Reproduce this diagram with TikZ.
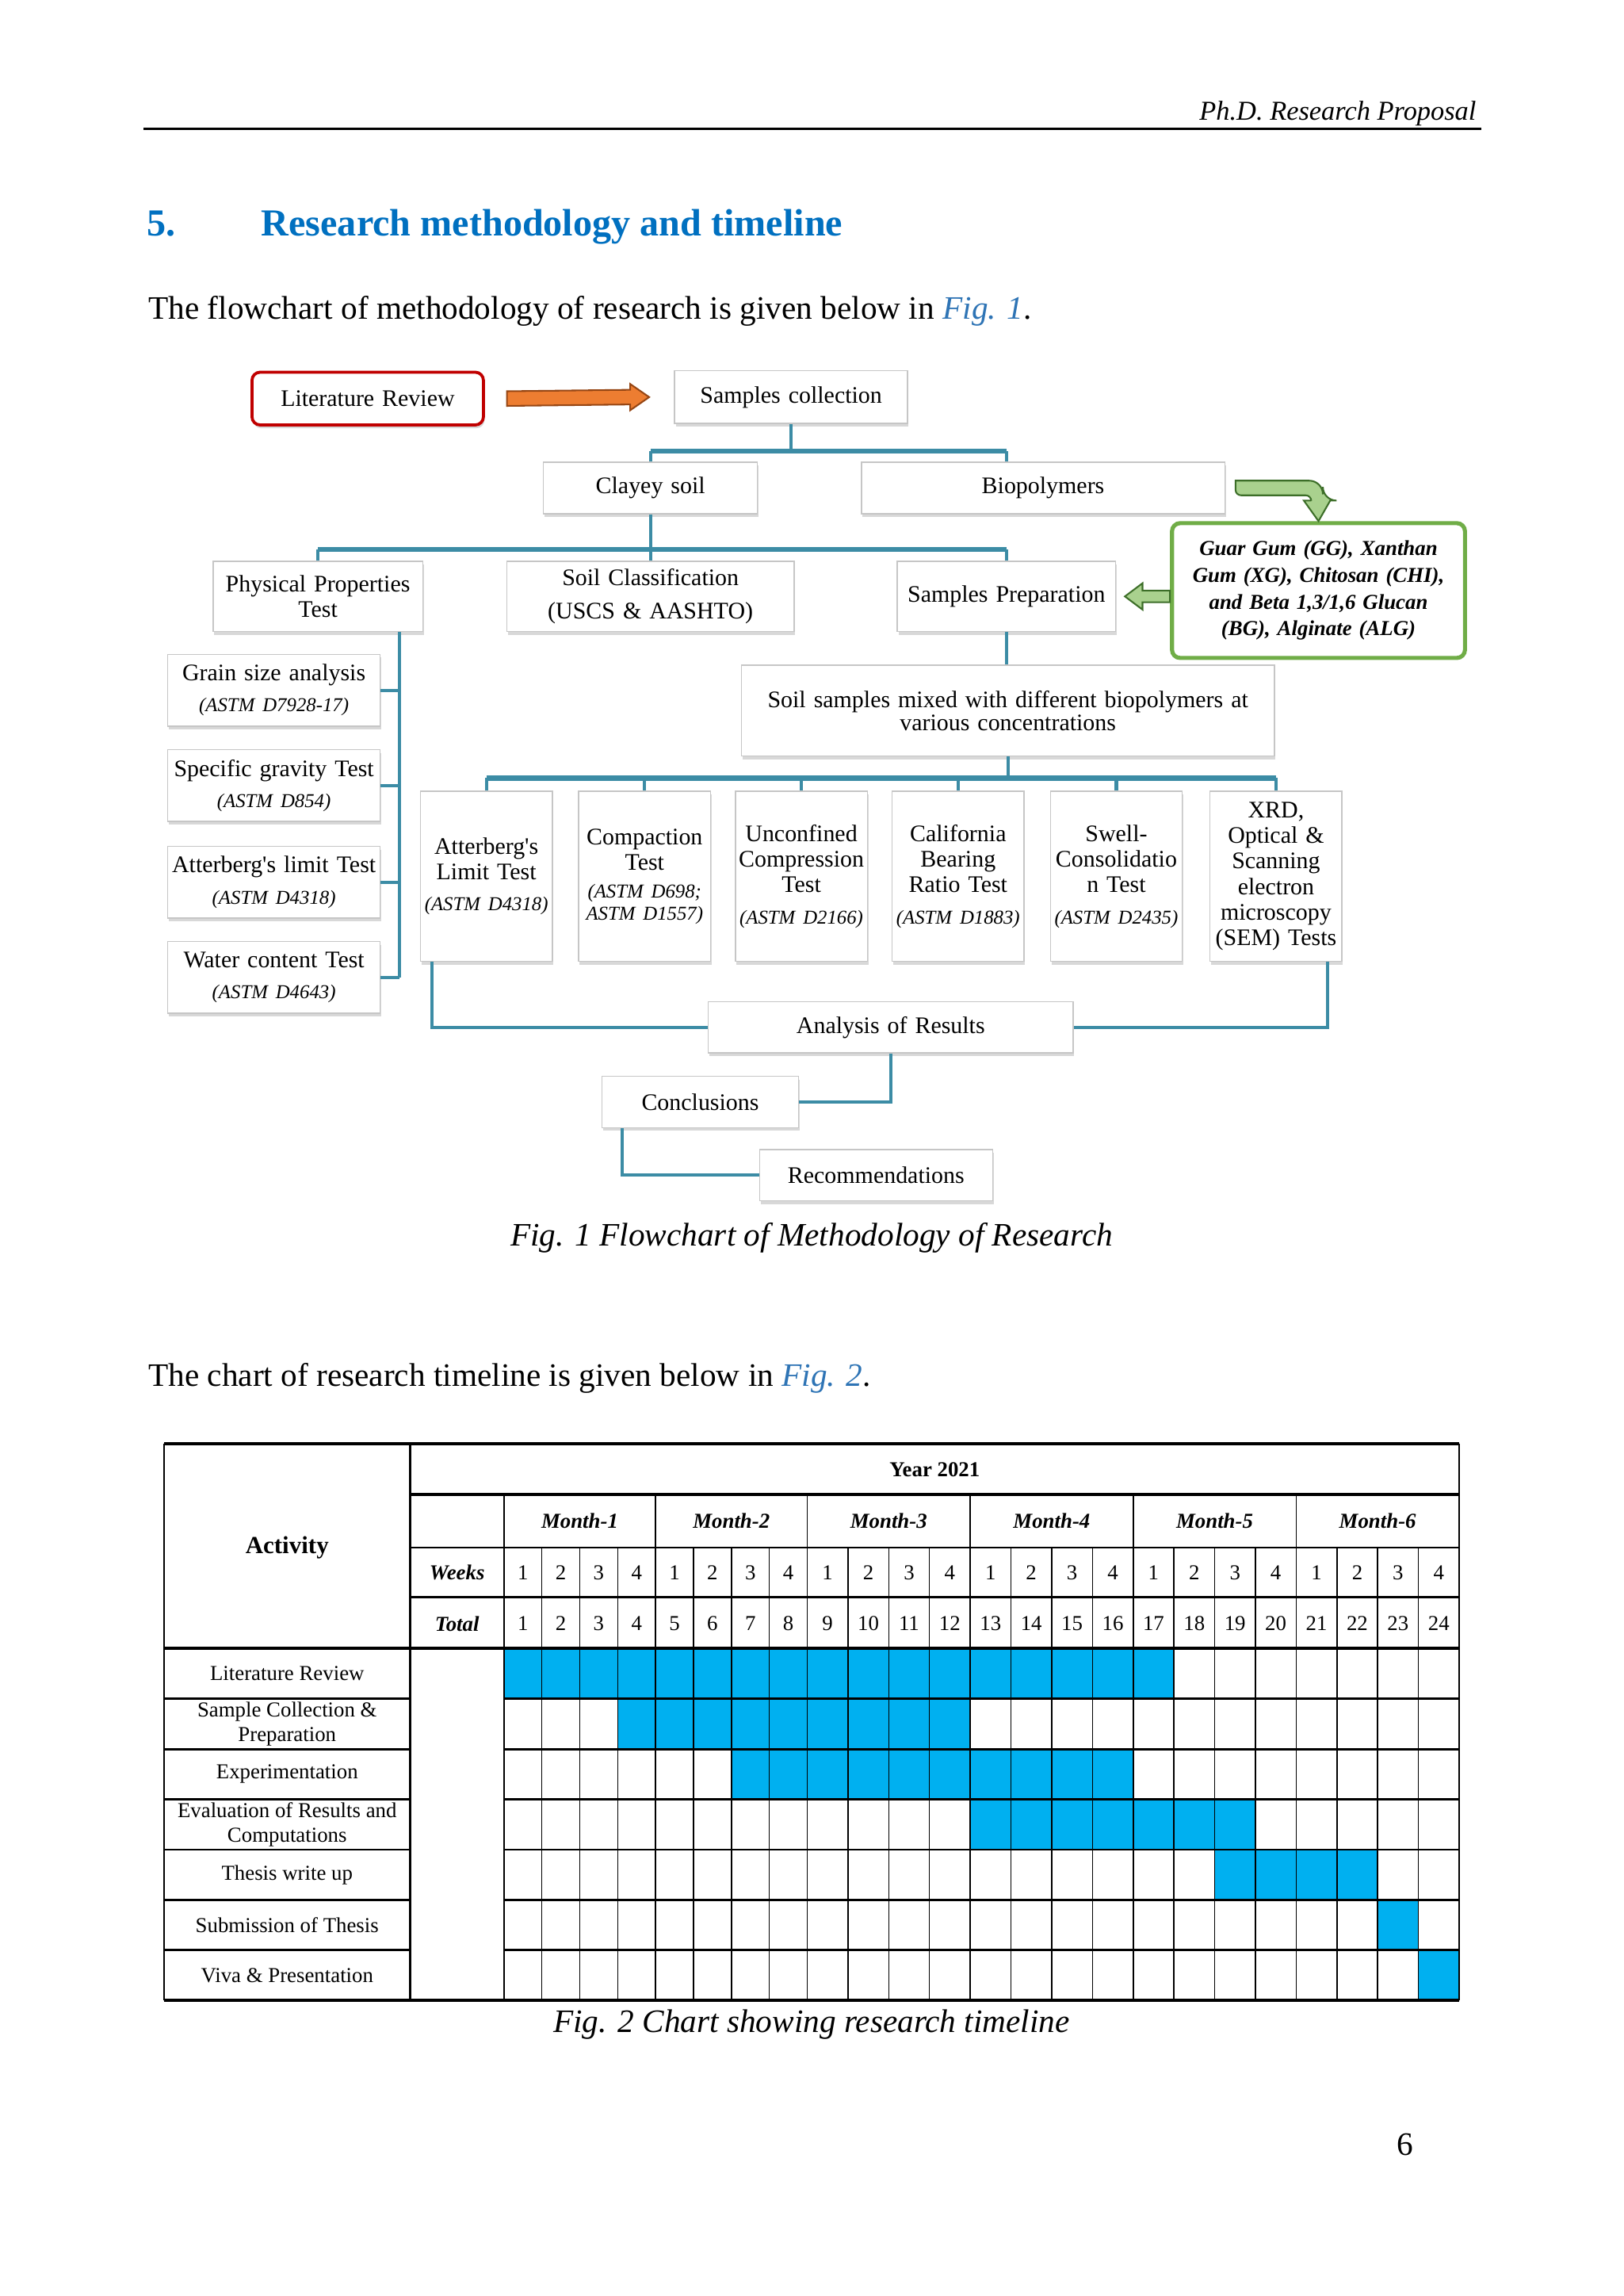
\documentclass[tikz,border=0pt]{standalone}
\usepackage{fontspec}
\setmainfont{Liberation Serif}
\usetikzlibrary{calc,shadows}

\definecolor{headblue}{RGB}{0,112,192}
\definecolor{linkblue}{RGB}{46,116,181}
\definecolor{flowteal}{RGB}{60,140,165}
\definecolor{litred}{RGB}{192,0,0}
\definecolor{arrorange}{RGB}{237,125,49}
\definecolor{arrorangedk}{RGB}{150,70,20}
\definecolor{guargreen}{RGB}{112,173,71}
\definecolor{lightgreen}{RGB}{169,209,142}
\definecolor{greendk}{RGB}{60,110,40}
\definecolor{cellblue}{RGB}{0,176,240}

\newcommand{\boxfont}{\fontsize{8.7}{9.4}\selectfont}
\newcommand{\astmfont}{\fontsize{7.2}{8.1}\selectfont\itshape}
\newcommand{\tabfont}{\fontsize{7.8}{9.1}\selectfont}

\hyphenpenalty=10000
\exhyphenpenalty=10000

% x position of the week column boundaries
\pgfmathdeclarefunction{wx}{1}{\pgfmathparse{(#1<8.5) ? (344+25.875*#1) : (551+27.8125*(#1-8))}}

\tikzset{
  sz/.code 2 args={\pgfmathsetlengthmacro\boxw{#1*0.5373pt}\pgfmathsetlengthmacro\boxh{#2*0.5373pt}\tikzset{text width=\boxw, minimum height=\boxh}},
  flowbox/.style={draw=gray!45, fill=white, align=center, inner xsep=0pt, inner ysep=1pt, font=\boxfont,
    drop shadow={shadow xshift=0.4pt, shadow yshift=-1.2pt, opacity=0.3}},
  litbox/.style={flowbox, draw=litred, line width=1.1pt, rounded corners=3pt},
  guarbox/.style={draw=guargreen, line width=1.5pt, rounded corners=3pt, fill=white, align=center,
    inner xsep=0pt, font=\fontsize{7.8}{9.8}\selectfont\bfseries\itshape},
  conn/.style={draw=flowteal, line width=1.2pt},
  bar/.style={draw=flowteal, line width=1.8pt},
  orarrow/.style={fill=arrorange, draw=arrorangedk, line width=0.6pt},
  grarrow/.style={fill=lightgreen, draw=greendk, line width=0.6pt},
  txt/.style={inner sep=0pt, anchor=base west, font=\fontsize{12}{14}\selectfont},
  tcell/.style={inner sep=0pt, font=\tabfont, align=center},
  tabthin/.style={line width=0.45pt},
  tabmid/.style={line width=0.8pt},
  tabthick/.style={line width=1.2pt},
}

\begin{document}
\begin{tikzpicture}[x=0.5373pt, y=-0.5373pt]
\fill[white] (0,0) rectangle (1108,1566.8);
\useasboundingbox (0,0) rectangle (1108,1566.8);

% page head
\node[txt, anchor=base east, font=\fontsize{10}{12}\selectfont\itshape] (hdr) at (1008,82) {Ph.D. Research Proposal};
\draw[line width=0.9pt] (98,88) -- (1011,88);
\node[txt, font=\fontsize{14}{16}\selectfont\bfseries, text=headblue] (secnum) at (100,161) {5.};
\node[txt, font=\fontsize{14}{16}\selectfont\bfseries, text=headblue] (sectitle) at (178,161) {Research methodology and timeline};
\node[txt] (intro1) at (101,218) {The flowchart of methodology of research is given below in {\color{linkblue}\itshape Fig. 1}.};

% flowchart
\node[litbox, sz={158}{36}] (lit) at (251,272) {Literature Review};
\node[flowbox, sz={159}{36}] (samp) at (540,271) {Samples collection};
\node[flowbox, sz={146}{35}] (clay) at (444,333) {Clayey soil};
\node[flowbox, sz={248}{35}] (bio) at (712,333) {Biopolymers};
\node[guarbox, sz={200}{92}] (guar) at (900,403) {Guar Gum (GG), Xanthan\\Gum (XG), Chitosan (CHI),\\and Beta 1,3/1,6 Glucan\\(BG), Alginate (ALG)};
\node[flowbox, sz={143}{48}] (phys) at (217,407) {Physical Properties\\Test};
\node[flowbox, sz={196}{48}] (soilc) at (444,407) {Soil Classification\\[3pt](USCS \& AASHTO)};
\node[flowbox, sz={149}{48}] (prep) at (687,407) {Samples Preparation};

\node[flowbox, sz={145}{49}] (grain) at (187,471) {Grain size analysis\\[2pt]{\astmfont (ASTM D7928-17)}};
\node[flowbox, sz={145}{49}] (spec) at (187,536) {Specific gravity Test\\[2pt]{\astmfont (ASTM D854)}};
\node[flowbox, sz={145}{49}] (atter) at (187,602) {Atterberg\textquotesingle s limit Test\\[2pt]{\astmfont (ASTM D4318)}};
\node[flowbox, sz={145}{49}] (water) at (187,667) {Water content Test\\[2pt]{\astmfont (ASTM D4643)}};

\node[flowbox, sz={364}{62}] (mix) at (688,485) {Soil samples mixed with different biopolymers at\\[-0.8pt]various concentrations};

\node[flowbox, sz={90}{116}] (t1) at (332,598) {Atterberg\textquotesingle s\\Limit Test\\[2pt]{\astmfont (ASTM D4318)}};
\node[flowbox, sz={90}{116}] (t2) at (440,598) {Compaction\\Test\\[2pt]{\astmfont (ASTM D698;\\[-1.3pt]ASTM D1557)}};
\node[flowbox, sz={90}{116}] (t3) at (547,598) {Unconfined\\Compression\\Test\\[2pt]{\astmfont (ASTM D2166)}};
\node[flowbox, sz={90}{116}] (t4) at (654,598) {California\\Bearing\\Ratio Test\\[2pt]{\astmfont (ASTM D1883)}};
\node[flowbox, sz={90}{116}] (t5) at (762,598) {Swell-\\Consolidatio\\n Test\\[2pt]{\astmfont (ASTM D2435)}};
\node[flowbox, sz={90}{116}] (t6) at (871,598) {XRD,\\Optical \&\\Scanning\\electron\\microscopy\\(SEM) Tests};

\node[flowbox, sz={249}{35}] (ana) at (608,701) {Analysis of Results};
\node[flowbox, sz={134}{35}] (conc) at (478,752) {Conclusions};
\node[flowbox, sz={159}{35}] (rec) at (598,802) {Recommendations};

% block arrows
\draw[orarrow] ($(lit.east)+(15,-5)$) -- ($(samp.west)+(-30,-5)$) -- ++(0,-4) -- ($(samp.west)+(-17,0)$)
  -- ($(samp.west)+(-30,9)$) -- ++(0,-4) -- ($(lit.east)+(15,5)$) -- cycle;
\draw[grarrow] ($(bio.east)+(7,-5)$) [rounded corners=5pt] -| ($(guar.north)+(3,-14)$) [sharp corners]
  -- ++(5,0) -- (guar.north) -- ++(-10,-14) -- ++(5,0) [rounded corners=2pt] |- ($(bio.east)+(7,5)$) [sharp corners] -- cycle;
\coordinate (ga) at (guar.west |- prep.east);
\draw[grarrow] ($(ga)+(0,-4)$) -- ($(prep.east)+(18,-4)$) -- ++(0,-5) -- ($(prep.east)+(6,0)$)
  -- ($(prep.east)+(18,9)$) -- ++(0,-5) -- ($(ga)+(0,4)$) -- cycle;

% connectors
\coordinate (j1) at (540,308);
\draw[conn] (samp.south) -- (j1);
\draw[conn] (clay.north |- j1) -- (clay.north);
\draw[conn] (prep.north |- j1) -- (prep.north |- bio.north);
\draw[bar] (clay.north |- j1) -- (prep.north |- j1);

\coordinate (j2) at (444,375);
\draw[conn] (clay.south) -- (j2);
\foreach \n in {phys,soilc,prep} \draw[conn] (\n.north |- j2) -- (\n.north);
\draw[bar] (phys.north |- j2) -- (prep.north |- j2);

\coordinate (sp) at ($(phys.south east)+(-16,0)$);
\draw[conn] (sp) -- (sp |- water.east);
\foreach \n in {grain,spec,atter,water} \draw[conn] (\n.east) -- (sp |- \n.east);

\draw[conn] (prep.south) -- (prep.south |- mix.north);
\coordinate (j4) at (688,531);
\draw[conn] (mix.south) -- (j4);
\foreach \k in {1,...,6} \draw[conn] (t\k.north |- j4) -- (t\k.north);
\draw[bar] (t1.north |- j4) -- (t6.north |- j4);

\draw[conn] ($(t1.south west)+(8,0)$) |- (ana.west);
\draw[conn] ($(t6.south east)+(-10,0)$) |- (ana.east);
\draw[conn] (ana.south) |- (conc.east);
\draw[conn] ($(conc.south west)+(14,0)$) |- (rec.west);

\node[txt, anchor=base, font=\fontsize{12}{14}\selectfont\itshape] (cap1) at (554,850) {Fig. 1 Flowchart of Methodology of Research};

\node[txt] (intro2) at (101,946) {The chart of research timeline is given below in {\color{linkblue}\itshape Fig. 2}.};

% timeline chart
\foreach \r/\a/\b in {0/1/17,1/4/12,2/7/16,3/13/19,4/19/22,5/23/23,6/24/24}
  \fill[cellblue] ({wx(\a-1)},{1125+34.286*\r}) rectangle ({wx(\b)},{1125+34.286*(\r+1)});

\foreach \i in {0,...,24} \draw[tabthin] ({wx(\i)},1056) -- ({wx(\i)},1365);
\foreach \m in {0,...,6} \draw[tabthin] ({wx(4*\m)},1020) -- ({wx(4*\m)},1056);

\draw[tabthick] (112,985) -- (996,985);
\draw[tabthick] (280,1020) -- (996,1020);
\draw[tabmid] (280,1056) -- (996,1056);
\draw[tabmid] (280,1090) -- (996,1090);
\draw[tabthick] (112,1125) -- (996,1125);
\foreach \r in {1,...,6}{
  \draw[tabmid] (112,{1125+34.286*\r}) -- (280,{1125+34.286*\r});
  \draw[tabmid] (344,{1125+34.286*\r}) -- (996,{1125+34.286*\r});
}
\draw[tabthick] (112,1365) -- (996,1365);
\draw[tabmid] (112,985) -- (112,1365);
\draw[tabmid] (996,985) -- (996,1365);
\draw[tabmid] (280,985) -- (280,1365);

\node[tcell, font=\tabfont\bfseries] (year) at (638,1003) {Year 2021};
\node[tcell, font=\fontsize{9}{11}\selectfont\bfseries] (activity) at (196,1056) {Activity};
\node[tcell, font=\tabfont\bfseries\itshape] (weeks) at (312,1073) {Weeks};
\node[tcell, font=\tabfont\bfseries\itshape] (total) at (312,1108) {Total};
\foreach \m in {1,...,6}
  \node[tcell, font=\tabfont\bfseries\itshape] (month\m) at ({(wx(4*\m-4)+wx(4*\m))/2},1038) {Month-\m};
\foreach \i in {1,...,24}{
  \pgfmathtruncatemacro\wk{mod(\i-1,4)+1}
  \node[tcell] (wk\i) at ({(wx(\i-1)+wx(\i))/2},1073) {\wk};
  \node[tcell] (tot\i) at ({(wx(\i-1)+wx(\i))/2},1108) {\i};
}

\node[tcell] (act1) at (196,1142.1) {Literature Review};
\node[tcell] (act2) at (196,1176.4) {Sample Collection \&\\Preparation};
\node[tcell] (act3) at (196,1210.7) {Experimentation};
\node[tcell] (act4) at (196,1245.0) {Evaluation of Results and\\Computations};
\node[tcell] (act5) at (196,1279.3) {Thesis write up};
\node[tcell] (act6) at (196,1313.6) {Submission of Thesis};
\node[tcell] (act7) at (196,1347.9) {Viva \& Presentation};

\node[txt, anchor=base, font=\fontsize{12}{14}\selectfont\itshape] (cap2) at (554,1387) {Fig. 2 Chart showing research timeline};

\node[txt, anchor=base] (pagenum) at (959,1471) {6};
\end{tikzpicture}
\end{document}
